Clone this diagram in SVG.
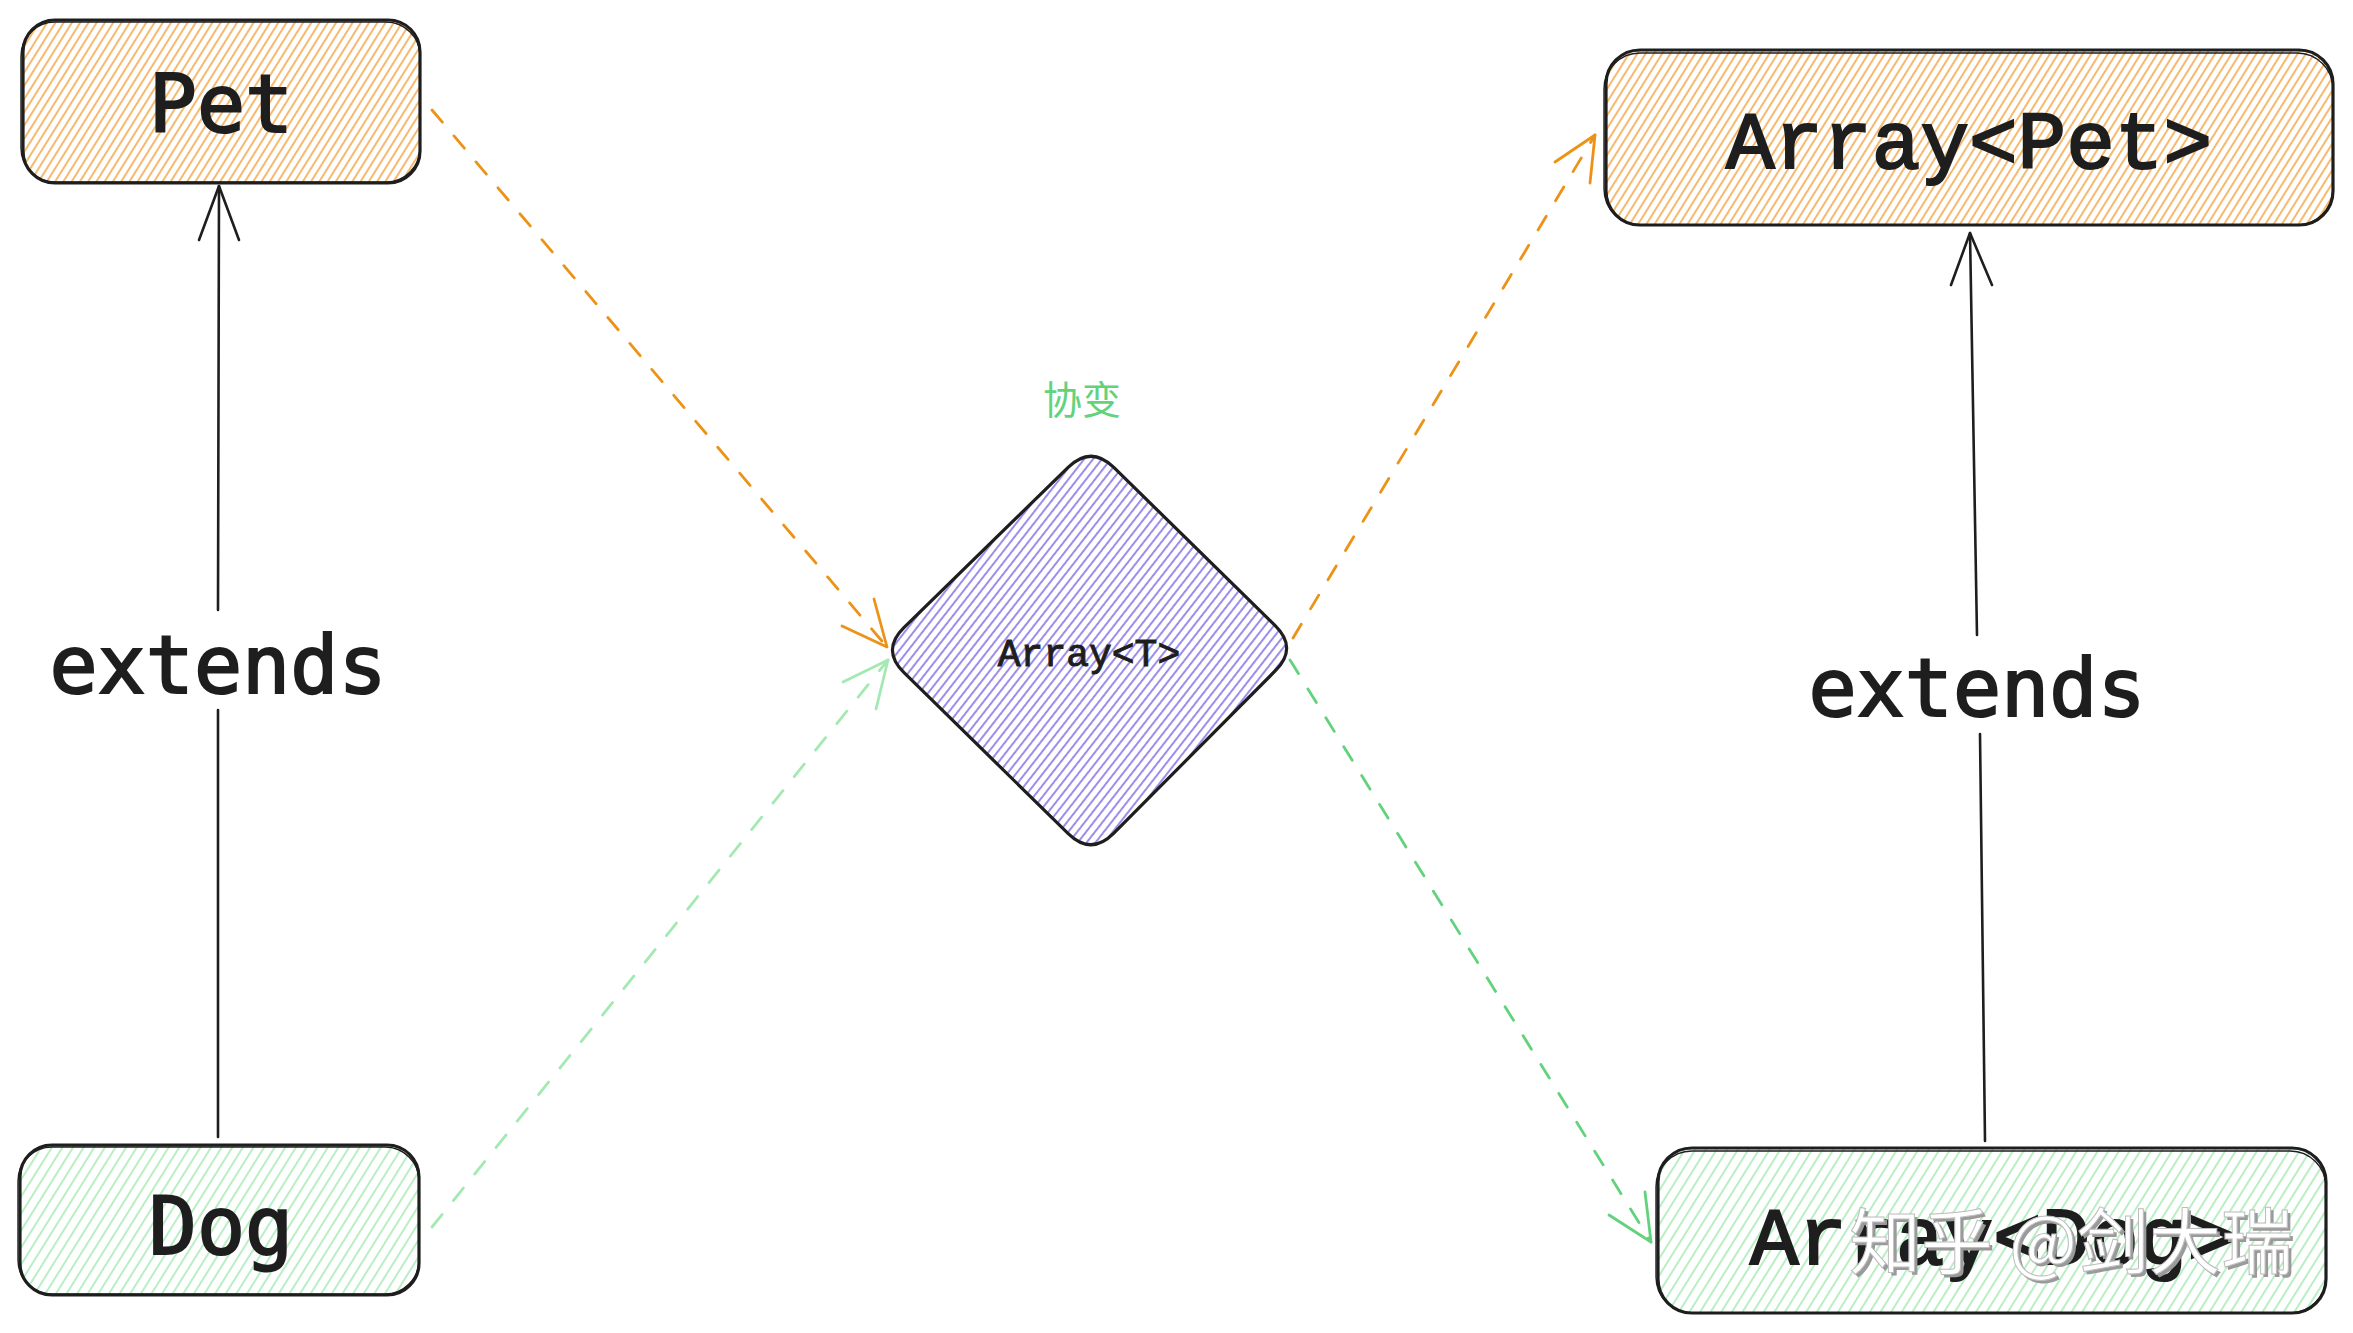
<svg xmlns="http://www.w3.org/2000/svg" width="2353" height="1333" viewBox="0 0 2353 1333">
<defs>
<pattern id="hOrange" patternUnits="userSpaceOnUse" width="7" height="20" patternTransform="rotate(32)">
<line x1="3" y1="0" x2="3" y2="20" stroke="#f4a74a" stroke-width="1.6"/>
</pattern>
<pattern id="hGreen" patternUnits="userSpaceOnUse" width="9" height="20" patternTransform="rotate(32)">
<line x1="4" y1="0" x2="4" y2="20" stroke="#a6ebb5" stroke-width="1.6"/>
</pattern>
<pattern id="hPurple" patternUnits="userSpaceOnUse" width="7" height="20" patternTransform="rotate(38)">
<line x1="3" y1="0" x2="3" y2="20" stroke="#6a4ee0" stroke-width="1.3"/>
</pattern>
</defs>
<style>
.box{stroke:#1e1e1e;stroke-width:3.2;}
.box2{fill:none;stroke:#1e1e1e;stroke-width:1.4;}
.lbl{font-family:"DejaVu Sans Mono","Liberation Mono",monospace;font-size:80px;fill:#1e1e1e;stroke:#1e1e1e;stroke-width:2;text-anchor:middle;}
.code{font-family:"Liberation Mono","DejaVu Sans Mono",monospace;fill:#1e1e1e;stroke:#1e1e1e;text-anchor:middle;}
.solid{fill:none;stroke:#1e1e1e;stroke-width:2.6;stroke-linecap:round;stroke-linejoin:round;}
.dash{fill:none;stroke-width:2.8;stroke-dasharray:16 18;stroke-linecap:round;}
.head{fill:none;stroke-width:2.8;stroke-linecap:round;stroke-linejoin:round;}
.or{stroke:#ec9317;}
.lg{stroke:#a3e9b2;}
.dg{stroke:#63d27d;}
</style>
<rect width="2353" height="1333" fill="#ffffff"/>

<g id="connectors">
<!-- Dog -> Pet -->
<line class="solid" x1="218" y1="1137" x2="218" y2="710"/>
<line class="solid" x1="218" y1="610" x2="219" y2="186"/>
<polyline class="solid" points="199,240 219,186 239,240"/>
<!-- Array<Dog> -> Array<Pet> -->
<line class="solid" x1="1985" y1="1141" x2="1980" y2="734"/>
<line class="solid" x1="1977" y1="635" x2="1970" y2="233"/>
<polyline class="solid" points="1951,285 1970,233 1992,285"/>
<!-- Pet -> Array<T> -->
<line class="dash or" x1="432" y1="110" x2="887" y2="647"/>
<polyline class="head or" points="874,599 887,647 842,626"/>
<!-- Array<T> -> Array<Pet> -->
<line class="dash or" x1="1293" y1="638" x2="1595" y2="135"/>
<polyline class="head or" points="1555,162 1595,135 1590,183"/>
<!-- Dog -> Array<T> -->
<line class="dash lg" x1="432" y1="1227" x2="888" y2="660"/>
<polyline class="head lg" points="843,682 888,660 876,709"/>
<!-- Array<T> -> Array<Dog> -->
<line class="dash dg" x1="1290" y1="660" x2="1651" y2="1242"/>
<polyline class="head dg" points="1645,1192 1651,1242 1609,1215"/>
</g>

<g id="label-extends-left">
<text class="lbl" x="218" y="693">extends</text>
</g>
<g id="label-extends-right">
<text class="lbl" x="1977" y="716">extends</text>
</g>

<g id="node-pet">
<rect class="box" x="23" y="20" width="397" height="163" rx="32" fill="url(#hOrange)"/>
<rect class="box2" x="21" y="22" width="399" height="160" rx="34"/>
<text class="lbl" x="221" y="132">Pet</text>
</g>

<g id="node-dog">
<rect class="box" x="20" y="1145" width="399" height="150" rx="32" fill="url(#hGreen)"/>
<rect class="box2" x="18" y="1147" width="401" height="147" rx="34"/>
<text class="lbl" x="221" y="1254">Dog</text>
</g>

<g id="node-array-pet">
<rect class="box" x="1606" y="50" width="727" height="175" rx="34" fill="url(#hOrange)"/>
<rect class="box2" x="1604" y="53" width="729" height="172" rx="36"/>
<text class="code" x="1969" y="168" font-size="81" stroke-width="2.2">Array&lt;Pet&gt;</text>
</g>

<g id="node-array-dog">
<rect class="box" x="1658" y="1148" width="668" height="165" rx="34" fill="url(#hGreen)"/>
<rect class="box2" x="1656" y="1151" width="670" height="162" rx="36"/>
<text class="code" x="1993" y="1264" font-size="81" stroke-width="2.2">Array&lt;Dog&gt;</text>
</g>

<g id="node-array-t">
<path class="box" fill="url(#hPurple)" d="M1113.8,467.4 L1275.2,625.6 Q1298,648 1275.4,670.7 L1113.6,833.3 Q1091,856 1068.2,833.6 L903.8,672.4 Q881,650 903.9,627.6 L1068.1,467.4 Q1091,445 1113.8,467.4 Z"/>
<text class="code" x="1089" y="666" font-size="38" stroke-width="1">Array&lt;T&gt;</text>
</g>

<g id="label-covariance">
<text x="1082" y="414" font-family="'Noto Sans CJK SC','Noto Sans',sans-serif" font-size="39" fill="#63d27d" text-anchor="middle">协变</text>
</g>

<g id="watermark">
<text x="2074" y="1271" font-family="'Noto Sans CJK SC',sans-serif" font-size="72" fill="#9a9a9a" text-anchor="middle">知乎 @剑大瑞</text>
<text x="2071" y="1268" font-family="'Noto Sans CJK SC',sans-serif" font-size="72" fill="#ffffff" stroke="#bdbdbd" stroke-width="1" text-anchor="middle">知乎 @剑大瑞</text>
</g>
</svg>
